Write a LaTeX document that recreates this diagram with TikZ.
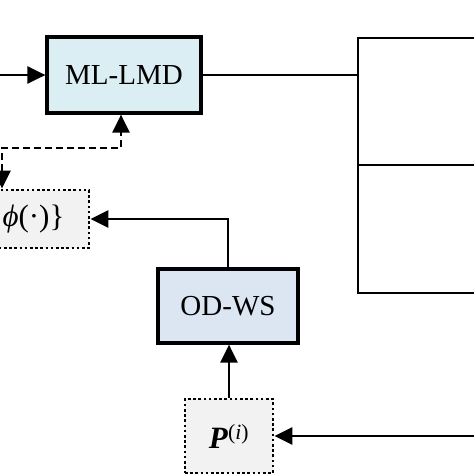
\documentclass[tikz,border=0pt]{standalone}
\usepackage{fontspec}
\setmainfont{Liberation Serif}
\usetikzlibrary{arrows.meta}
\definecolor{lmdblue}{HTML}{DAEEF3}
\definecolor{wsblue}{HTML}{DCE6F2}
\definecolor{boxgray}{HTML}{F2F2F2}
\tikzset{
  solidbox/.style={draw=black, line width=3.2pt, inner sep=0pt, font=\fontsize{29}{34}\selectfont},
  dotbox/.style={draw=black, line width=2.8pt, dash pattern=on 2.6pt off 2.6pt, fill=boxgray, inner sep=0pt, font=\fontsize{29}{34}\selectfont},
  conn/.style={line width=2.8pt, -{Triangle[length=18pt,width=17pt]}},
  plain/.style={line width=2.8pt},
}
\begin{document}
\begin{tikzpicture}[x=1pt,y=-1pt]
\useasboundingbox (0,0) rectangle (474,474);
\clip (0,0) rectangle (474,474);
\fill[white] (0,0) rectangle (474,474);
\node[solidbox, fill=lmdblue, minimum width=154pt, minimum height=76pt] (mllmd) at (124,75) {ML-LMD};
\node[solidbox, fill=wsblue, minimum width=140pt, minimum height=74pt] (odws) at (228,306) {OD-WS};
\node[dotbox, minimum width=111pt, minimum height=58pt, font=\fontsize{31}{36}\selectfont] (phi) at (33.5,219) {\textit{ϕ}(·)\}};
\node[dotbox, minimum width=88pt, minimum height=74pt, font=\fontsize{31}{36}\selectfont] (pbox) at (229,436) {\textbf{\textit{P}}\textsuperscript{(\textit{i})}};
\coordinate (in) at (0,75);
\coordinate (j) at (358,75);
\coordinate (t1) at (474,38);
\coordinate (t2) at (474,165);
\coordinate (t3) at (474,293);
\coordinate (d1) at (121,148);
\coordinate (d2) at (2,148);
\coordinate (pin) at (474,436);
\draw[conn] (in) -- (mllmd.west);
\draw[plain] (mllmd.east) -- (j);
\draw[plain] (t1) -- (t1 -| j) -- (t3 -| j) -- (t3);
\draw[plain] (t2 -| j) -- (t2);
\draw[line width=2.8pt, dash pattern=on 7pt off 4pt, {Triangle[length=18pt,width=17pt]}-{Triangle[length=18pt,width=17pt]}] (phi.north -| d2) -- (d2) -- (d1) -- (mllmd.south -| d1);
\draw[conn] (odws.north) |- (phi.east);
\draw[conn] (pbox.north) -- (pbox.north |- odws.south);
\draw[conn] (pin) -- (pbox.east);
\end{tikzpicture}
\end{document}
